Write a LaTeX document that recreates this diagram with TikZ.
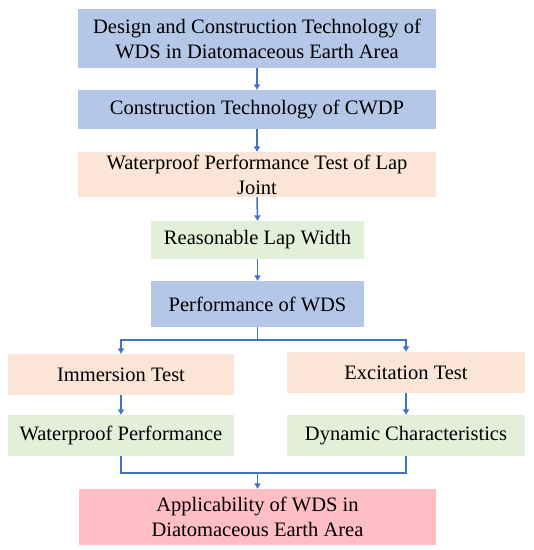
\documentclass[tikz,border=0pt]{standalone}
\usepackage{fontspec}
\setmainfont{Liberation Serif}
\usetikzlibrary{arrows.meta}
\definecolor{bblue}{HTML}{B4C7E7}
\definecolor{borange}{HTML}{FBE5D6}
\definecolor{bgreen}{HTML}{E2F0D9}
\definecolor{bpink}{HTML}{FFBDC4}
\definecolor{arrowblue}{HTML}{4472C4}
\begin{document}
\begin{tikzpicture}[x=1pt,y=-1pt,
  box/.style={inner sep=0pt, align=center, font=\fontsize{20.5}{25}\selectfont, text=black},
  conn/.style={draw=arrowblue, line width=1.5pt},
  arr/.style={conn, -{Triangle[length=5.5pt,width=6pt]}}]
\useasboundingbox (0,0) rectangle (534,550);
\node[box, fill=bblue, minimum width=358, minimum height=59] (b1) at (257,38.5) {Design and Construction Technology of\\WDS in Diatomaceous Earth Area};
\node[box, fill=bblue, minimum width=358, minimum height=39] (b2) at (257,109.5) {Construction Technology of CWDP};
\node[box, fill=borange, minimum width=358, minimum height=45] (b3) at (257,174.5) {Waterproof Performance Test of Lap\\Joint};
\node[box, fill=bgreen, minimum width=213, minimum height=38] (b4) at (257.5,240) {Reasonable Lap Width};
\node[box, fill=bblue, minimum width=213, minimum height=46] (b5) at (257.5,304) {Performance of WDS};
\node[box, fill=borange, minimum width=226, minimum height=41] (b6) at (121,374.5) {Immersion Test};
\node[box, fill=borange, minimum width=238, minimum height=41] (b7) at (406,372.5) {Excitation Test};
\node[box, fill=bgreen, minimum width=226, minimum height=41] (b8) at (121,435.5) {Waterproof Performance};
\node[box, fill=bgreen, minimum width=238, minimum height=41] (b9) at (406,435.5) {Dynamic Characteristics};
\node[box, fill=bpink, minimum width=357, minimum height=56] (b10) at (257.5,517) {Applicability of WDS in\\Diatomaceous Earth Area};
\coordinate (br) at (257.5,340);
\coordinate (m) at (257.5,473);
\draw[arr] (b1.south) -- (b2.north);
\draw[arr] (b2.south) -- (b3.north);
\draw[arr] (b3.south) -- (b4.north);
\draw[arr] (b4.south) -- (b5.north);
\draw[conn] (b5.south) -- (br);
\draw[arr] (br) -| (b6.north);
\draw[arr] (br) -| (b7.north);
\draw[arr] (b6.south) -- (b8.north);
\draw[arr] (b7.south) -- (b9.north);
\draw[conn] (b8.south) |- (m);
\draw[conn] (b9.south) |- (m);
\draw[arr] (m) -- (b10.north);
\end{tikzpicture}
\end{document}
